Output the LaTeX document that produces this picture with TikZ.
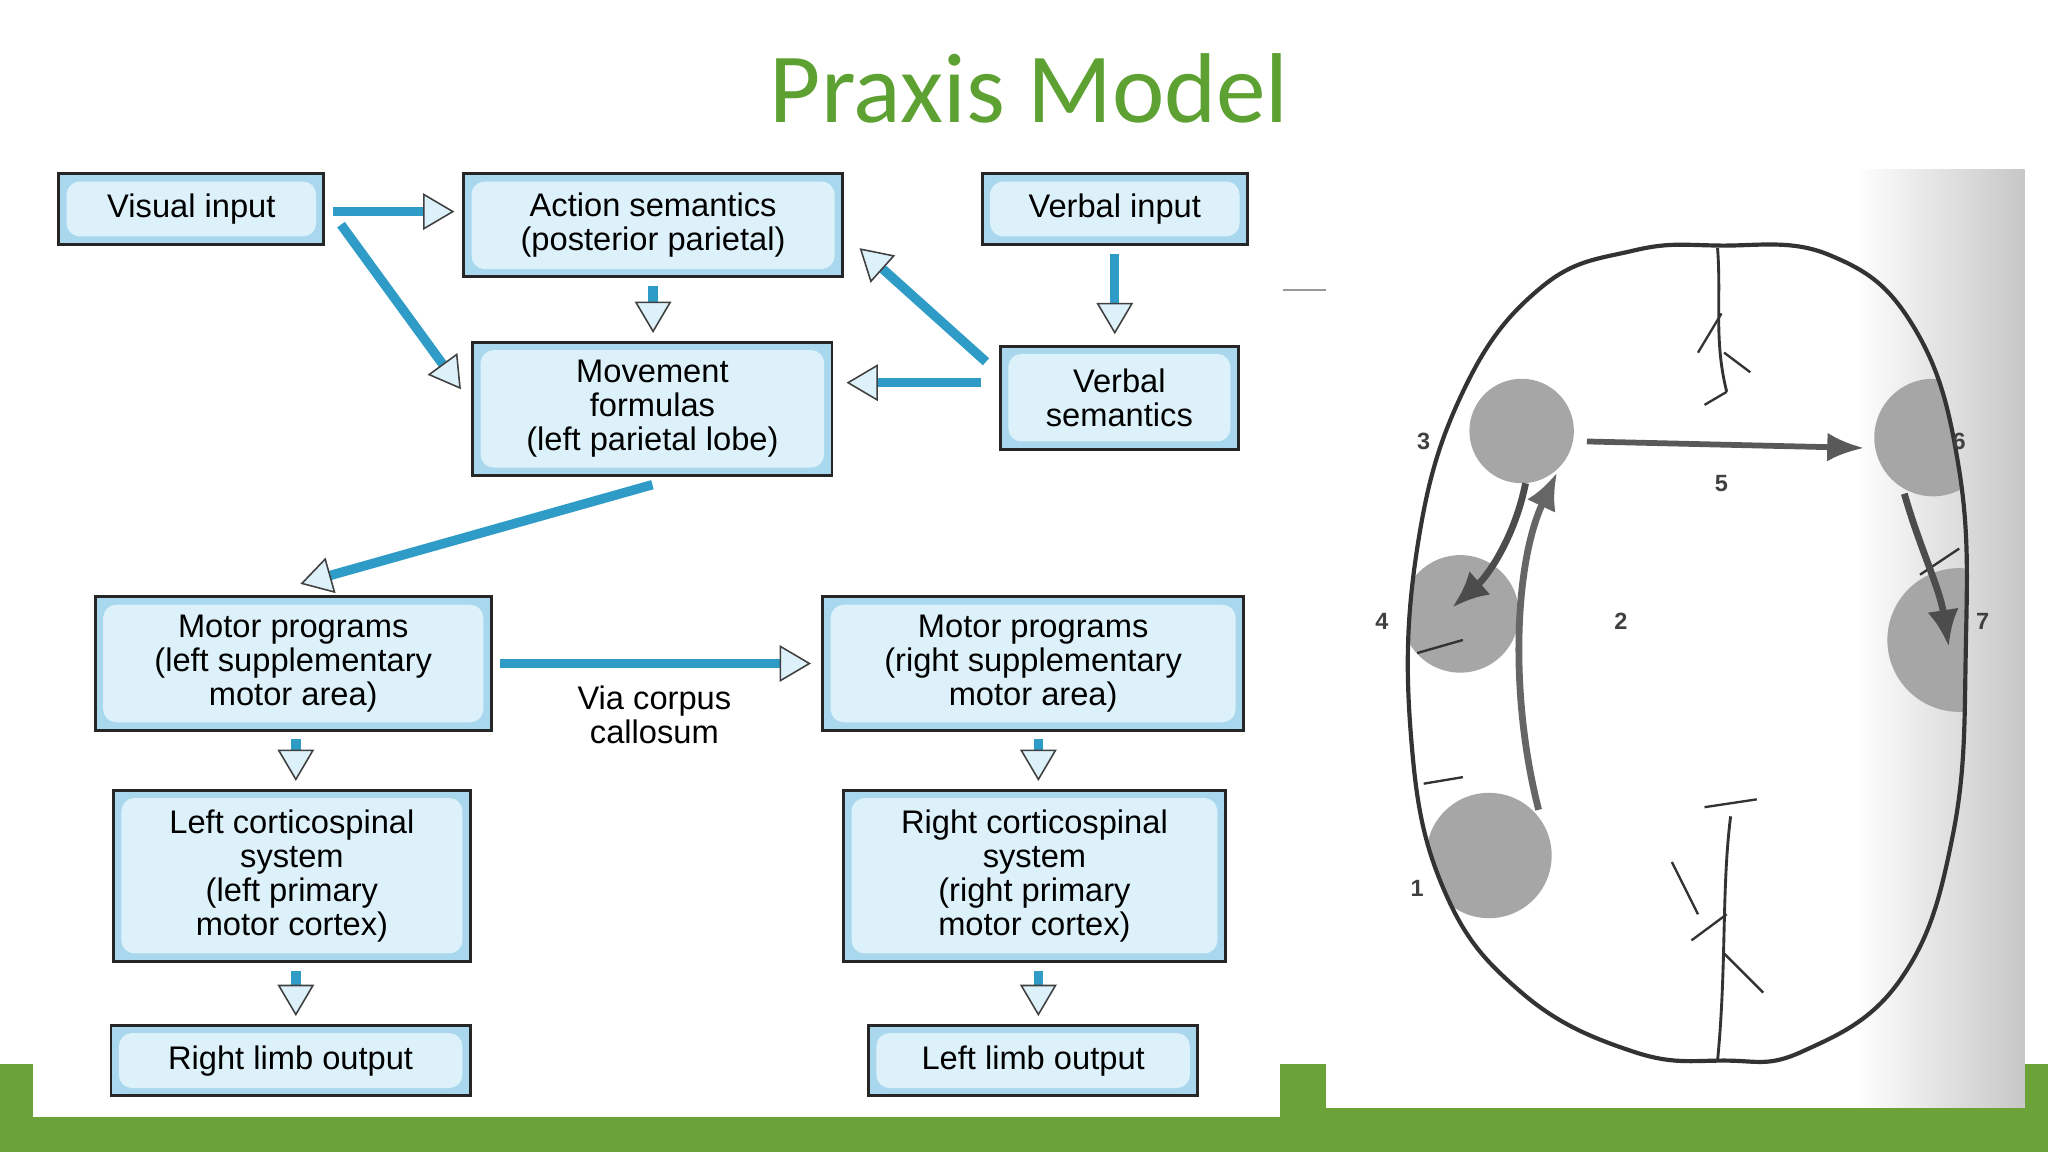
\documentclass[tikz,border=0pt]{standalone}
\usepackage{fontspec}
\setmainfont{Liberation Sans}
\newfontfamily\titlefont{Carlito}
\usetikzlibrary{arrows.meta}
\definecolor{slidegreen}{HTML}{6BA339}
\definecolor{titlegreen}{HTML}{5EA133}
\definecolor{boxblue}{HTML}{A9D8EE}
\definecolor{boxinner}{HTML}{DDF1FA}
\definecolor{shaftblue}{HTML}{2E9CC6}
\definecolor{brainline}{HTML}{333333}
\begin{document}
\begin{tikzpicture}[x=0.5pt,y=-0.5pt,
  box/.style={draw=black!85,line width=1.1pt,fill=boxblue,align=center,inner sep=0pt,
    font=\fontsize{12.5}{13}\selectfont,
    path picture={\fill[boxinner,rounded corners=5pt]
      ([shift={(3pt,-3pt)}]path picture bounding box.north west) rectangle
      ([shift={(-3pt,3pt)}]path picture bounding box.south east);}},
  flow/.style={line width=3.6pt,shaftblue,
    -{Triangle[open,length=12pt,width=14pt,line width=0.6pt,color=black!75,fill=boxinner]}},
  num/.style={font=\bfseries\fontsize{9}{9}\selectfont,text=black!75},
  blob/.style={fill=black!35}
]
\useasboundingbox (0,0) rectangle (1568,882);
% slide background
\fill[white] (0,0) rectangle (1568,882);
\fill[slidegreen] (0,815) rectangle (1568,882);
\fill[white] (25,120) rectangle (980,855);
\fill[white] (1015,130) rectangle (1550,848);
\shade[left color=white,right color=black!22] (1420,130) rectangle (1550,848);
\draw[black!40,line width=0.6pt] (982,222) -- (1015,222);
% title
\node[font=\titlefont\fontsize{38}{38}\selectfont,text=titlegreen] (title) at (788,68) {Praxis Model};

% boxes
\node[box,minimum width=101.5pt,minimum height=27pt] (vis) at (146.5,160) {Visual input};
\node[box,minimum width=145pt,minimum height=39.5pt] (act) at (500,172.5) {Action semantics\\(posterior parietal)};
\node[box,minimum width=101.5pt,minimum height=27pt] (vin) at (853.5,160) {Verbal input};
\node[box,minimum width=137.5pt,minimum height=51pt] (mov) at (499.5,313) {Movement\\formulas\\(left parietal lobe)};
\node[box,minimum width=91pt,minimum height=39.5pt] (vsem) at (857,304.5) {Verbal\\semantics};
\node[box,minimum width=151.5pt,minimum height=51pt] (mpl) at (224.5,508) {Motor programs\\(left supplementary\\motor area)};
\node[box,minimum width=161pt,minimum height=51pt] (mpr) at (791,508) {Motor programs\\(right supplementary\\motor area)};
\node[box,minimum width=136.5pt,minimum height=65.5pt] (lcs) at (223.5,670.5) {Left corticospinal\\system\\(left primary\\motor cortex)};
\node[box,minimum width=146pt,minimum height=65.5pt] (rcs) at (792,670.5) {Right corticospinal\\system\\(right primary\\motor cortex)};
\node[box,minimum width=137.5pt,minimum height=27pt] (rlo) at (222.5,812) {Right limb output};
\node[box,minimum width=126pt,minimum height=27pt] (llo) at (791,812) {Left limb output};
\node[align=center,font=\fontsize{12.5}{13}\selectfont] (via) at (501,547) {Via corpus\\callosum};

% connectors
\draw[flow] ([xshift=3pt]vis.east |- 0,162) -- ([xshift=-3pt]act.west |- 0,162);
\draw[flow] ([xshift=6pt]vis.east |- 0,172) -- ([xshift=-4pt]mov.west |- 0,298);
\draw[flow] ([yshift=-3pt]act.south) -- ([yshift=3pt]act.south |- mov.north);
\draw[flow] ([yshift=-3pt]vin.south) -- ([yshift=4pt]vin.south |- vsem.north);
\draw[flow] ([xshift=-5pt]vsem.west |- 0,277) -- ([xshift=6pt]act.east |- 0,190);
\draw[flow] ([xshift=-7pt]vsem.west |- 0,293) -- ([xshift=5pt]mov.east |- 0,293);
\draw[flow] ([yshift=-3pt]mov.south) -- (230,447);
\draw[flow] ([xshift=3pt]mpl.east) -- ([xshift=-4pt]mpr.west);
\draw[flow] ([xshift=1pt,yshift=-3pt]mpl.south) -- ([xshift=1pt,yshift=3pt]mpl.south |- lcs.north);
\draw[flow] ([xshift=2pt,yshift=-3pt]mpr.south) -- ([xshift=2pt,yshift=3pt]mpr.south |- rcs.north);
\draw[flow] ([xshift=1.5pt,yshift=-3pt]lcs.south) -- ([xshift=1.5pt,yshift=3pt]lcs.south |- rlo.north);
\draw[flow] ([xshift=1.5pt,yshift=-3pt]rcs.south) -- ([xshift=1.5pt,yshift=3pt]rcs.south |- llo.north);

% brain
\begin{scope}
\clip plot[smooth cycle,tension=0.7] coordinates {(1315,188) (1400,195) (1465,250) (1500,360) (1505,500) (1495,640) (1455,750) (1380,805) (1320,812) (1250,805) (1165,760) (1105,680) (1080,560) (1085,420) (1120,300) (1180,220) (1250,192)};
\fill[blob] (1165,330) circle (40);
\fill[blob] (1118,470) circle (45);
\fill[blob] (1140,655) circle (48);
\fill[blob] (1480,335) circle (45);
\fill[blob] (1500,490) circle (55);
\end{scope}
\draw[brainline,line width=1.6pt] plot[smooth cycle,tension=0.7] coordinates {(1315,188) (1400,195) (1465,250) (1500,360) (1505,500) (1495,640) (1455,750) (1380,805) (1320,812) (1250,805) (1165,760) (1105,680) (1080,560) (1085,420) (1120,300) (1180,220) (1250,192)};
\draw[brainline,line width=1.1pt] (1315,190) .. controls (1318,230) and (1312,260) .. (1322,300);
\draw[brainline,line width=0.9pt] (1318,240) -- (1300,270) (1320,270) -- (1340,285) (1322,300) -- (1305,310);
\draw[brainline,line width=1.1pt] (1315,812) .. controls (1322,740) and (1318,680) .. (1325,625);
\draw[brainline,line width=0.9pt] (1305,618) -- (1345,612) (1322,700) -- (1295,720) (1320,730) -- (1350,760) (1280,660) -- (1300,700);
\draw[brainline,line width=0.9pt] (1090,600) -- (1120,595) (1085,500) -- (1120,490) (1500,420) -- (1470,440);
% brain arrows
\draw[black!65,line width=2.2pt,-{Latex[length=14pt,width=11pt]}] (1215,338) -- (1427,343);
\draw[black!60,line width=2.6pt,-{Latex[length=14pt,width=12pt]}] (1178,620) .. controls (1155,530) and (1160,430) .. (1192,362);
\draw[black!70,line width=2.6pt,-{Latex[length=14pt,width=12pt]}] (1168,370) .. controls (1160,410) and (1140,440) .. (1112,465);
\draw[black!70,line width=2.6pt,-{Latex[length=14pt,width=12pt]}] (1458,378) .. controls (1470,420) and (1485,450) .. (1492,495);
\node[num] (n3) at (1090,338) {3};
\node[num] (n5) at (1318,370) {5};
\node[num] (n6) at (1500,338) {6};
\node[num] (n4) at (1058,476) {4};
\node[num] (n2) at (1241,476) {2};
\node[num] (n7) at (1518,476) {7};
\node[num] (n1) at (1085,680) {1};
\end{tikzpicture}
\end{document}
